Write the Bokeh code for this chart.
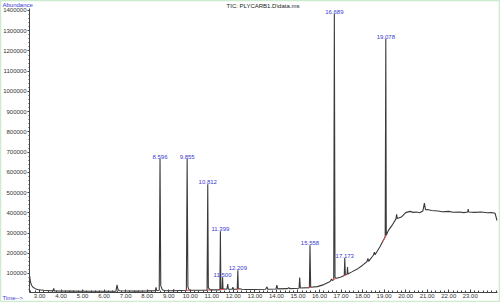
from bokeh.plotting import figure
from bokeh.models import Range1d, SingleIntervalTicker, FixedTicker, PrintfTickFormatter, Label
from bokeh.embed import file_html
from bokeh.resources import INLINE
from bokeh.core.properties import value

# ---- data ----
trace_t = [2.54, 2.58, 2.63, 2.70, 2.80, 2.95, 3.20, 3.50, 3.63, 3.66, 3.69, 4.50, 5.00, 5.03, 5.06,
           6.00, 6.55, 6.60, 6.64, 6.70, 7.50, 8.00, 8.38, 8.41, 8.44, 8.56, 8.596, 8.63, 8.70, 8.80,
           9.00, 9.20, 9.23, 9.26, 9.82, 9.855, 9.89, 9.95, 10.40, 10.78, 10.812, 10.84, 10.92,
           11.30, 11.375, 11.399, 11.42, 11.48, 11.50, 11.52, 11.70, 11.74, 11.77, 11.95, 11.98,
           12.01, 12.18, 12.209, 12.23, 12.40, 12.60, 13.00, 13.50, 13.56, 13.60, 13.98, 14.02,
           14.06, 14.50, 14.58, 14.62, 15.05, 15.08, 15.11, 15.53, 15.558, 15.59, 15.90, 16.20,
           16.40, 16.50, 16.56, 16.60, 16.66, 16.689, 16.72, 16.80, 17.00, 17.15, 17.173, 17.20,
           17.28, 17.30, 17.32, 17.50, 17.80, 18.00, 18.20, 18.25, 18.28, 18.50, 18.55, 18.58,
           18.80, 19.00, 19.05, 19.078, 19.10, 19.20, 19.40, 19.55, 19.58, 19.61, 19.80, 20.00,
           20.20, 20.35, 20.50, 20.65, 20.80, 20.87, 20.92, 21.00, 21.20, 21.50, 21.70, 22.00,
           22.20, 22.50, 22.70, 22.88, 22.90, 22.93, 23.20, 23.50, 23.80, 24.00, 24.15, 24.24]
trace_v = [88000, 60000, 42000, 32000, 25000, 20000, 17000, 15000, 14000, 26000, 14000, 13000, 12000, 16000, 12000,
           12000, 13000, 44000, 22000, 15000, 13000, 14000, 15000, 32000, 16000, 17000, 667000, 40000, 20000, 16000,
           15000, 15000, 21000, 15000, 17000, 667000, 35000, 18000, 17000, 18000, 541000, 30000, 19000,
           19000, 20000, 309000, 25000, 22000, 81000, 24000, 22000, 48000, 22000, 22000, 32000,
           22000, 22000, 116000, 25000, 22000, 21000, 21000, 22000, 34000, 22000, 23000, 42000,
           24000, 25000, 30000, 25000, 27000, 80000, 28000, 30000, 240000, 32000, 35000, 45000,
           55000, 62000, 72000, 65000, 70000, 1384000, 80000, 76000, 83000, 90000, 177000, 93000,
           96000, 132000, 98000, 108000, 125000, 141000, 158000, 175000, 160000, 190000, 205000, 193000,
           231000, 272000, 283000, 1260000, 290000, 313000, 343000, 370000, 392000, 372000, 379000, 401000,
           407000, 402000, 404000, 400000, 409000, 448000, 415000, 416000, 411000, 409000, 405000, 407000,
           403000, 404000, 401000, 404000, 418000, 404000, 402000, 404000, 400000, 401000, 398000, 362000]

peak_t = [8.596, 9.855, 10.812, 11.399, 11.500, 12.209, 15.558, 16.689, 17.173, 19.078]
peak_v = [667000, 667000, 541000, 309000, 81000, 116000, 240000, 1384000, 177000, 1260000]
peak_txt = ["8.596", "9.855", "10.812", "11.399", "11.500", "12.209", "15.558", "16.689", "17.173", "19.078"]

red_t0 = [9.80, 10.75, 11.33, 12.15, 15.50, 16.62, 17.10, 18.92]
red_t1 = [10.00, 10.92, 11.58, 12.30, 15.62, 16.80, 17.25, 19.12]
red_v0 = [17000, 18000, 19000, 22000, 30000, 70000, 88000, 255000]
red_v1 = [18000, 19000, 22000, 24000, 32000, 76000, 94000, 292000]

x_major = [3.0, 4.0, 5.0, 6.0, 7.0, 8.0, 9.0, 10.0, 11.0, 12.0, 13.0, 14.0, 15.0, 16.0,
           17.0, 18.0, 19.0, 20.0, 21.0, 22.0, 23.0]
x_minor = [round(2.6 + 0.2 * i, 1) for i in range(109)]

title_txt = "TIC: PLYCARB1.D\\data.ms"
y_title = "Abundance"
x_title = "Time-->"

font = "Liberation Sans"
blue = "#3b3bd0"

# frame covers the whole canvas; axes sit at fixed locations inside it
W, H = 500, 302
X0, X1 = 1.190, 24.403
Y0, Y1 = -43400, 1449400
AX_X = 2.536      # where the y axis sits (time)
AX_Y = 6000       # where the x axis sits (abundance)


def dx(px):
    return X0 + px * (X1 - X0) / W


def dy(py):
    return Y1 - py * (Y1 - Y0) / H


p = figure(width=W, height=H, title=None,
           x_range=Range1d(X0, X1), y_range=Range1d(Y0, Y1),
           output_backend="svg", toolbar_location=None,
           min_border=0, min_border_left=0, min_border_right=0,
           min_border_top=0, min_border_bottom=0)
p.grid.visible = False
p.outline_line_color = "#cdebcd"
p.outline_line_width = 1.5
p.background_fill_color = "white"
p.border_fill_color = "white"

p.line(trace_t, trace_v, line_color="#3a3a3a", line_width=1.1)
p.segment(x0=red_t0, y0=red_v0, x1=red_t1, y1=red_v1, line_color="#e05050", line_width=1)
p.text(x=peak_t, y=peak_v, text=peak_txt, text_font=value(font), text_font_size="6px",
       text_color=blue, text_align="center", text_baseline="bottom")

xa = p.xaxis[0]
xa.fixed_location = AX_Y
xa.bounds = (AX_X, 24.26)
xa.ticker = FixedTicker(ticks=x_major, minor_ticks=x_minor)
xa.formatter = PrintfTickFormatter(format="%.2f")
xa.major_tick_in = 3
xa.major_tick_out = 0
xa.minor_tick_in = 2
xa.minor_tick_out = 0
xa.major_label_standoff = 1
xa.major_label_text_font = font
xa.major_label_text_font_size = "6px"
xa.major_label_text_color = "#333333"
xa.axis_line_color = "#444444"
xa.major_tick_line_color = "#444444"
xa.minor_tick_line_color = "#444444"

ya = p.yaxis[0]
ya.fixed_location = AX_X
ya.bounds = (AX_Y, 1410000)
ya.ticker = SingleIntervalTicker(interval=100000, num_minor_ticks=5)
ya.formatter = PrintfTickFormatter(format="%d")
ya.major_tick_in = 0
ya.major_tick_out = 2
ya.minor_tick_in = 0
ya.minor_tick_out = 1
ya.major_label_standoff = 1
ya.major_label_text_font = font
ya.major_label_text_font_size = "6px"
ya.major_label_text_color = "#333333"
ya.axis_line_color = "#444444"
ya.major_tick_line_color = "#444444"
ya.minor_tick_line_color = "#444444"

p.add_layout(Label(x=dx(2), y=dy(4), text=y_title,
                   text_font=font, text_font_size="6px", text_color=blue,
                   text_align="left", text_baseline="middle"))
p.add_layout(Label(x=dx(262.5), y=dy(5), text=title_txt,
                   text_font=font, text_font_size="6px", text_color="#222222",
                   text_align="center", text_baseline="middle"))
p.add_layout(Label(x=dx(2), y=dy(297.5), text=x_title,
                   text_font=font, text_font_size="6px", text_color=blue,
                   text_align="left", text_baseline="middle"))

open("out.html", "w").write(file_html(p, INLINE))
